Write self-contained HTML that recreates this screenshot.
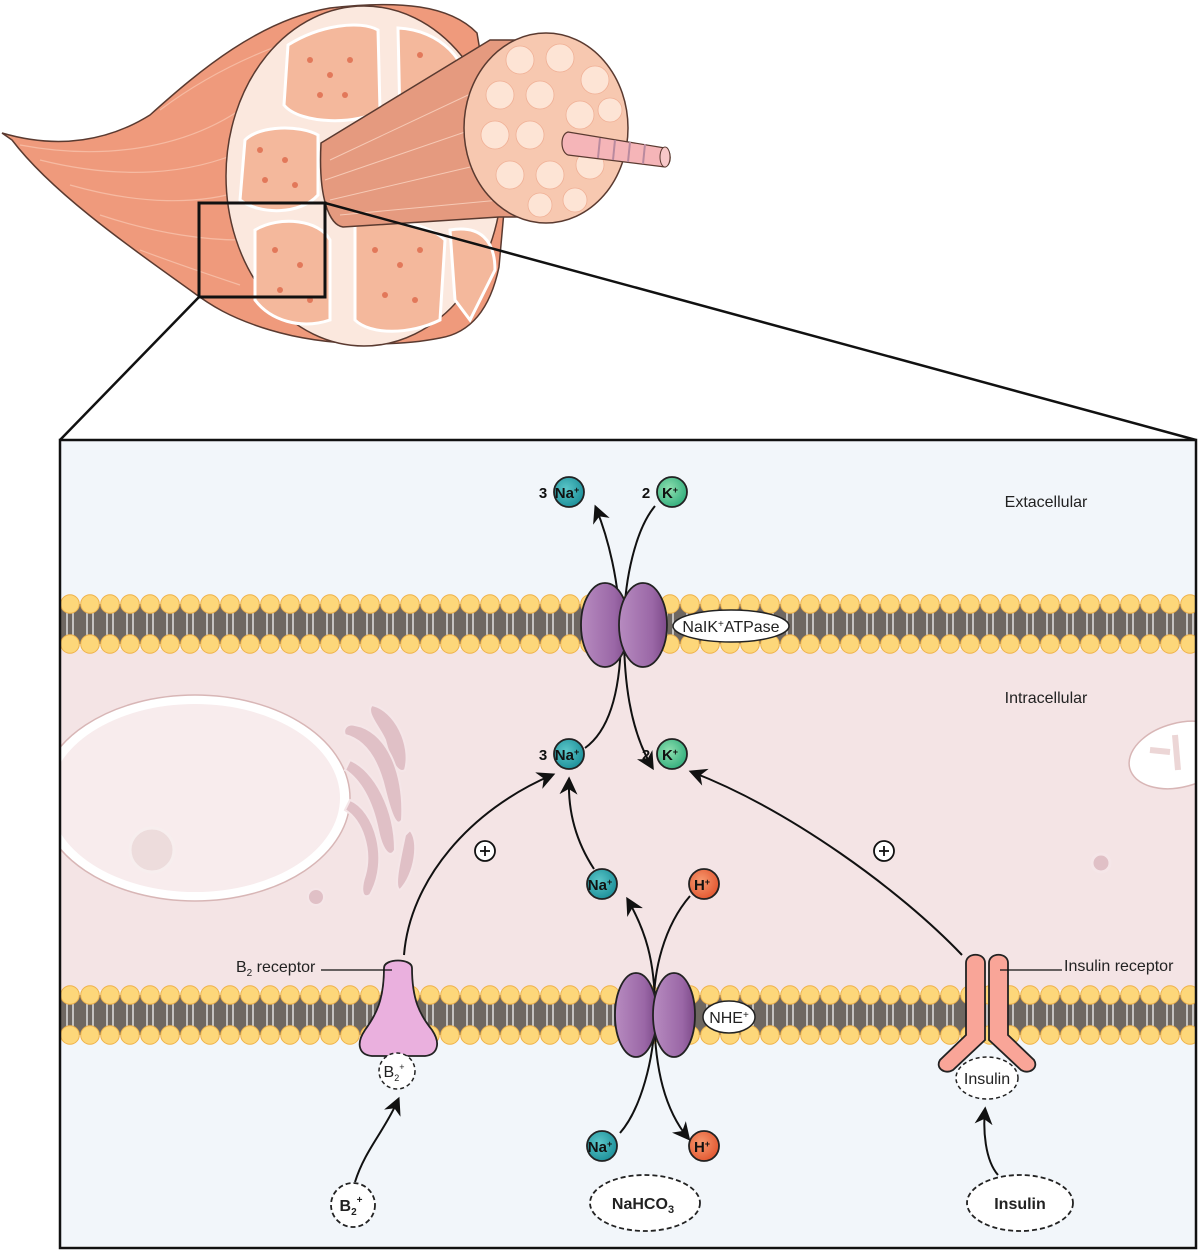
<!DOCTYPE html>
<html><head><meta charset="utf-8"><style>
html,body{margin:0;padding:0;background:#fff;}
svg{display:block;font-family:"Liberation Sans",sans-serif;}
.lbl{font-family:"Liberation Sans",sans-serif;font-size:16px;fill:#222;}
.ion{font-weight:bold;font-size:15px;fill:#111;}
</style></head><body>
<svg width="1200" height="1250" viewBox="0 0 1200 1250" xmlns="http://www.w3.org/2000/svg">
<defs>
<pattern id="lip" x="0" y="594" width="20" height="60" patternUnits="userSpaceOnUse">
 <rect x="0" y="10" width="20" height="40" fill="#6e6761"/>
 <line x1="7" y1="10" x2="7" y2="50" stroke="#fff" stroke-width="1.2"/>
 <line x1="13" y1="10" x2="13" y2="50" stroke="#fff" stroke-width="1.2"/>
 <circle cx="10" cy="10" r="9.3" fill="#fdd77a" stroke="#f0b24a" stroke-width="1"/>
 <circle cx="10" cy="50" r="9.3" fill="#fdd77a" stroke="#f0b24a" stroke-width="1"/>
</pattern>
<pattern id="lip2" x="0" y="985" width="20" height="60" patternUnits="userSpaceOnUse">
 <rect x="0" y="10" width="20" height="40" fill="#6e6761"/>
 <line x1="7" y1="10" x2="7" y2="50" stroke="#fff" stroke-width="1.2"/>
 <line x1="13" y1="10" x2="13" y2="50" stroke="#fff" stroke-width="1.2"/>
 <circle cx="10" cy="10" r="9.3" fill="#fdd77a" stroke="#f0b24a" stroke-width="1"/>
 <circle cx="10" cy="50" r="9.3" fill="#fdd77a" stroke="#f0b24a" stroke-width="1"/>
</pattern>
<radialGradient id="na" cx="0.4" cy="0.4" r="0.7"><stop offset="0" stop-color="#5cc7c9"/><stop offset="1" stop-color="#168a95"/></radialGradient>
<radialGradient id="k" cx="0.4" cy="0.4" r="0.7"><stop offset="0" stop-color="#8fe0b0"/><stop offset="1" stop-color="#2aa978"/></radialGradient>
<radialGradient id="h" cx="0.4" cy="0.4" r="0.7"><stop offset="0" stop-color="#f79a70"/><stop offset="1" stop-color="#e0502a"/></radialGradient>
<linearGradient id="pur" x1="0" x2="1"><stop offset="0" stop-color="#b78bc0"/><stop offset="0.7" stop-color="#9a67a6"/><stop offset="1" stop-color="#7d4a8a"/></linearGradient>
<marker id="ar" viewBox="0 0 10 10" refX="8" refY="5" markerWidth="9" markerHeight="9" orient="auto-start-reverse"><path d="M0,0 L10,5 L0,10 L3,5z" fill="#111"/></marker>
<clipPath id="box"><rect x="61" y="441" width="1134" height="805"/></clipPath>
</defs>

<!-- Muscle illustration -->
<path d="M2,133 C60,150 110,140 150,115 C200,70 260,20 330,8 C400,0 450,5 477,33 L505,200 L499,267 C490,310 470,333 440,338 C400,346 330,348 270,330 C230,318 210,305 190,290 C120,240 50,190 12,140 Z" fill="#ef9a7c" stroke="#5a3a30" stroke-width="1.5"/>
<g stroke="#f8c3ac" stroke-width="1.2" fill="none" opacity="0.8">
<path d="M20,145 C100,160 180,150 240,110"/><path d="M40,160 C120,180 190,175 245,150"/><path d="M70,185 C140,205 200,205 245,190"/><path d="M100,215 C160,235 210,240 240,240"/><path d="M140,250 C180,265 210,275 240,285"/><path d="M160,110 C200,80 240,60 280,45"/>
</g>
<ellipse cx="364" cy="176" rx="138" ry="170" fill="#fbe8de" stroke="#5a3a30" stroke-width="1.5"/>
<g fill="#f4b89c" stroke="#fff" stroke-width="3">
<path d="M288,45 C320,25 360,20 378,30 L380,110 C360,125 300,125 284,105 Z"/>
<path d="M398,28 C440,30 470,60 470,100 L440,140 L400,120 Z"/>
<path d="M245,140 C260,125 300,125 318,135 L318,195 C300,215 260,215 240,200 Z"/>
<path d="M255,230 C280,215 320,220 330,240 L330,320 C300,330 270,320 255,300 Z"/>
<path d="M355,225 C390,215 430,225 445,240 L440,320 C410,335 370,335 355,320 Z"/>
<path d="M450,230 C480,225 495,240 495,270 L470,320 L455,300 Z"/>
</g>
<g fill="#e2785a">
<circle cx="310" cy="60" r="3"/><circle cx="330" cy="75" r="3"/><circle cx="350" cy="60" r="3"/><circle cx="320" cy="95" r="3"/><circle cx="345" cy="95" r="3"/><circle cx="420" cy="55" r="3"/><circle cx="440" cy="75" r="3"/><circle cx="420" cy="90" r="3"/>
<circle cx="260" cy="150" r="3"/><circle cx="285" cy="160" r="3"/><circle cx="265" cy="180" r="3"/><circle cx="295" cy="185" r="3"/>
<circle cx="275" cy="250" r="3"/><circle cx="300" cy="265" r="3"/><circle cx="280" cy="290" r="3"/><circle cx="310" cy="300" r="3"/>
<circle cx="375" cy="250" r="3"/><circle cx="400" cy="265" r="3"/><circle cx="420" cy="250" r="3"/><circle cx="385" cy="295" r="3"/><circle cx="415" cy="300" r="3"/>
</g>
<path d="M321,143 L490,40 L555,40 L560,217 L499,217 L343,227 C330,225 318,200 321,143 Z" fill="#e59a7f" stroke="#5a3a30" stroke-width="1.5"/>
<g stroke="#f6c9b5" stroke-width="1" fill="none"><path d="M330,160 L500,80"/><path d="M325,180 L500,120"/><path d="M330,200 L500,160"/><path d="M340,215 L500,200"/></g>
<ellipse cx="546" cy="128" rx="82" ry="95" fill="#f7c8b0" stroke="#5a3a30" stroke-width="1.5"/>
<g fill="#fde4d5" stroke="#f0b096" stroke-width="0.8">
<circle cx="520" cy="60" r="14"/><circle cx="560" cy="58" r="14"/><circle cx="595" cy="80" r="14"/><circle cx="500" cy="95" r="14"/><circle cx="540" cy="95" r="14"/><circle cx="580" cy="115" r="14"/><circle cx="610" cy="110" r="12"/><circle cx="495" cy="135" r="14"/><circle cx="530" cy="135" r="14"/><circle cx="510" cy="175" r="14"/><circle cx="550" cy="175" r="14"/><circle cx="590" cy="165" r="14"/><circle cx="540" cy="205" r="12"/><circle cx="575" cy="200" r="12"/>
</g>
<path d="M568,132 L665,148 C672,150 672,165 665,167 L568,155 C560,152 560,134 568,132 Z" fill="#f5b5b8" stroke="#5a3a30" stroke-width="1.2"/>
<g stroke="#b98a9e" stroke-width="2"><line x1="600" y1="138" x2="598" y2="158"/><line x1="615" y1="140" x2="613" y2="160"/><line x1="630" y1="142" x2="628" y2="162"/><line x1="645" y1="144" x2="643" y2="164"/></g>
<ellipse cx="665" cy="157" rx="5" ry="10" fill="#f8c8c8" stroke="#5a3a30" stroke-width="1"/>

<!-- inset square and lines -->
<rect x="199" y="203" width="126" height="94" fill="none" stroke="#111" stroke-width="3"/>
<line x1="199" y1="297" x2="60" y2="440" stroke="#111" stroke-width="2.5"/>
<line x1="325" y1="203" x2="1196" y2="440" stroke="#111" stroke-width="2.5"/>

<!-- Main box -->
<g clip-path="url(#box)">
<rect x="60" y="440" width="1136" height="808" fill="#f2f6fa"/>
<rect x="60" y="650" width="1136" height="340" fill="#f4e4e5"/>
<ellipse cx="195" cy="798" rx="155" ry="103" fill="#fff" stroke="#d8b6b6" stroke-width="1.5"/>
<ellipse cx="195" cy="798" rx="145" ry="94" fill="#f8eced"/>
<circle cx="152" cy="850" r="22" fill="#eddcdc" stroke="#f7eeee" stroke-width="3"/>
<g fill="#e0c0c6" stroke="#f5e6e8" stroke-width="2">
<path d="M372,705 C395,710 412,745 405,770 C398,775 390,760 385,740 C378,725 365,712 372,705Z"/>
<path d="M355,725 C385,730 405,770 402,820 C396,830 390,810 385,790 C378,760 365,740 345,735 C342,728 348,723 355,725Z"/>
<path d="M350,760 C375,770 395,810 395,850 C390,860 382,850 378,830 C372,800 360,780 345,770 Z"/>
<path d="M350,800 C375,810 390,860 370,895 C362,900 360,890 365,875 C372,850 362,820 345,810 Z"/>
<path d="M410,830 C420,840 415,875 400,890 C393,888 400,860 405,835Z"/>
</g>
<circle cx="316" cy="897" r="8" fill="#e0c0c6" stroke="#f5e6e8" stroke-width="2"/>
<circle cx="1101" cy="863" r="9" fill="#e0c0c6" stroke="#f5e6e8" stroke-width="3"/>
<ellipse cx="1180" cy="755" rx="52" ry="32" transform="rotate(-15 1180 755)" fill="#fff" stroke="#d8b6b6" stroke-width="1.5"/>
<g stroke="#ecd6d6" stroke-width="6"><line x1="1150" y1="750" x2="1170" y2="752"/><line x1="1175" y1="735" x2="1178" y2="770"/></g>
<rect x="60" y="594" width="1140" height="60" fill="url(#lip)"/>
<rect x="60" y="985" width="1140" height="60" fill="url(#lip2)"/>
</g>
<rect x="60" y="440" width="1136" height="808" fill="none" stroke="#111" stroke-width="2.5"/>

<text x="1046" y="507" class="lbl" text-anchor="middle">Extacellular</text>
<text x="1046" y="703" class="lbl" text-anchor="middle">Intracellular</text>

<!-- Na/K pump -->
<g fill="none" stroke="#111" stroke-width="2">
<path d="M585,748 C610,730 620,690 621,640 C620,580 607,535 596,508" marker-end="url(#ar)"/>
<path d="M655,506 C635,530 625,580 624,620 C623,680 630,730 652,767" marker-end="url(#ar)"/>
</g>
<ellipse cx="605" cy="625" rx="24" ry="42" fill="url(#pur)" stroke="#222" stroke-width="1.8"/>
<ellipse cx="643" cy="625" rx="24" ry="42" fill="url(#pur)" stroke="#222" stroke-width="1.8"/>
<ellipse cx="731" cy="626" rx="58" ry="16" fill="#fff" stroke="#222" stroke-width="1.5"/>
<text x="731" y="632" class="lbl" text-anchor="middle">NaIK<tspan font-size="10" dy="-5">+</tspan><tspan dy="5">ATPase</tspan></text>

<g stroke="#222" stroke-width="1.8">
<circle cx="569" cy="492" r="15" fill="url(#na)"/><circle cx="672" cy="492" r="15" fill="url(#k)"/>
<circle cx="569" cy="754" r="15" fill="url(#na)"/><circle cx="672" cy="754" r="15" fill="url(#k)"/>
<circle cx="602" cy="884" r="15" fill="url(#na)"/><circle cx="704" cy="884" r="15" fill="url(#h)"/>
<circle cx="602" cy="1146" r="15" fill="url(#na)"/><circle cx="704" cy="1146" r="15" fill="url(#h)"/>
</g>
<g text-anchor="middle">
<text x="567" y="498" class="ion">Na<tspan font-size="9" dy="-5">+</tspan></text>
<text x="670" y="498" class="ion">K<tspan font-size="9" dy="-5">+</tspan></text>
<text x="567" y="760" class="ion">Na<tspan font-size="9" dy="-5">+</tspan></text>
<text x="670" y="760" class="ion">K<tspan font-size="9" dy="-5">+</tspan></text>
<text x="600" y="890" class="ion">Na<tspan font-size="9" dy="-5">+</tspan></text>
<text x="702" y="890" class="ion">H<tspan font-size="9" dy="-5">+</tspan></text>
<text x="600" y="1152" class="ion">Na<tspan font-size="9" dy="-5">+</tspan></text>
<text x="702" y="1152" class="ion">H<tspan font-size="9" dy="-5">+</tspan></text>
<text x="543" y="498" class="ion">3</text><text x="646" y="498" class="ion">2</text>
<text x="543" y="760" class="ion">3</text><text x="646" y="760" class="ion">2</text>
</g>

<g fill="none" stroke="#111" stroke-width="2">
<path d="M404,955 C410,880 470,810 552,775" marker-end="url(#ar)"/>
<path d="M962,955 C900,890 790,810 692,772" marker-end="url(#ar)"/>
<path d="M594,869 C575,840 568,810 569,780" marker-end="url(#ar)"/>
<path d="M620,1133 C640,1110 655,1060 655,1010 C655,960 645,930 628,900" marker-end="url(#ar)"/>
<path d="M690,896 C665,925 652,970 654,1015 C655,1070 665,1110 688,1138" marker-end="url(#ar)"/>
<path d="M355,1182 C365,1150 385,1130 398,1100" marker-end="url(#ar)"/>
<path d="M998,1175 C985,1160 983,1130 985,1110" marker-end="url(#ar)"/>
</g>
<ellipse cx="636" cy="1015" rx="21" ry="42" fill="url(#pur)" stroke="#222" stroke-width="1.8"/>
<ellipse cx="674" cy="1015" rx="21" ry="42" fill="url(#pur)" stroke="#222" stroke-width="1.8"/>
<ellipse cx="729" cy="1017" rx="26" ry="16" fill="#fff" stroke="#222" stroke-width="1.5"/>
<text x="729" y="1023" class="lbl" text-anchor="middle">NHE<tspan font-size="10" dy="-5">+</tspan></text>

<g stroke="#111" stroke-width="1.8" fill="#fff"><circle cx="485" cy="851" r="10"/><circle cx="884" cy="851" r="10"/></g>
<g stroke="#111" stroke-width="1.8"><line x1="480" y1="851" x2="490" y2="851"/><line x1="485" y1="846" x2="485" y2="856"/><line x1="879" y1="851" x2="889" y2="851"/><line x1="884" y1="846" x2="884" y2="856"/></g>

<path d="M384,968 C384,958 412,958 412,968 C412,1000 420,1015 432,1030 C442,1045 436,1055 425,1056 L372,1056 C360,1055 355,1045 365,1030 C376,1015 384,1000 384,968 Z" fill="#eab0de" stroke="#222" stroke-width="1.8"/>
<circle cx="397" cy="1071" r="18" fill="#fff" stroke="#222" stroke-width="1.5" stroke-dasharray="4,3"/>
<text x="394" y="1077" class="lbl" text-anchor="middle" font-size="15">B<tspan font-size="9" dy="4">2</tspan><tspan font-size="9" dy="-11">+</tspan></text>
<line x1="321" y1="970" x2="392" y2="970" stroke="#111" stroke-width="1.3"/>
<text x="236" y="972" class="lbl">B<tspan font-size="10" dy="4">2</tspan><tspan dy="-4"> receptor</tspan></text>
<circle cx="353" cy="1205" r="22" fill="#fff" stroke="#222" stroke-width="1.8" stroke-dasharray="5,3"/>
<text x="351" y="1211" class="lbl" text-anchor="middle" font-weight="bold" font-size="16">B<tspan font-size="10" dy="4">2</tspan><tspan font-size="10" dy="-12">+</tspan></text>

<ellipse cx="645" cy="1203" rx="55" ry="28" fill="#fff" stroke="#222" stroke-width="1.8" stroke-dasharray="5,3"/>
<text x="643" y="1209" class="lbl" text-anchor="middle" font-weight="bold" font-size="17">NaHCO<tspan font-size="11" dy="4">3</tspan></text>

<ellipse cx="987" cy="1078" rx="31" ry="21" fill="#fff" stroke="#222" stroke-width="1.5" stroke-dasharray="4,3"/>
<path d="M966,963 C966,952 985,952 985,963 L985,1040 L953,1070 C945,1075 935,1068 940,1060 L966,1035 Z" fill="#f9a598" stroke="#222" stroke-width="1.8"/>
<path d="M989,963 C989,952 1008,952 1008,963 L1008,1035 L1034,1060 C1039,1068 1029,1075 1021,1070 L989,1040 Z" fill="#f9a598" stroke="#222" stroke-width="1.8"/>
<text x="987" y="1084" class="lbl" text-anchor="middle">Insulin</text>
<line x1="1000" y1="970" x2="1062" y2="970" stroke="#111" stroke-width="1.3"/>
<text x="1064" y="971" class="lbl">Insulin receptor</text>
<ellipse cx="1020" cy="1203" rx="53" ry="28" fill="#fff" stroke="#222" stroke-width="1.8" stroke-dasharray="5,3"/>
<text x="1020" y="1209" class="lbl" text-anchor="middle" font-weight="bold" font-size="17">Insulin</text>
</svg>
</body></html>
